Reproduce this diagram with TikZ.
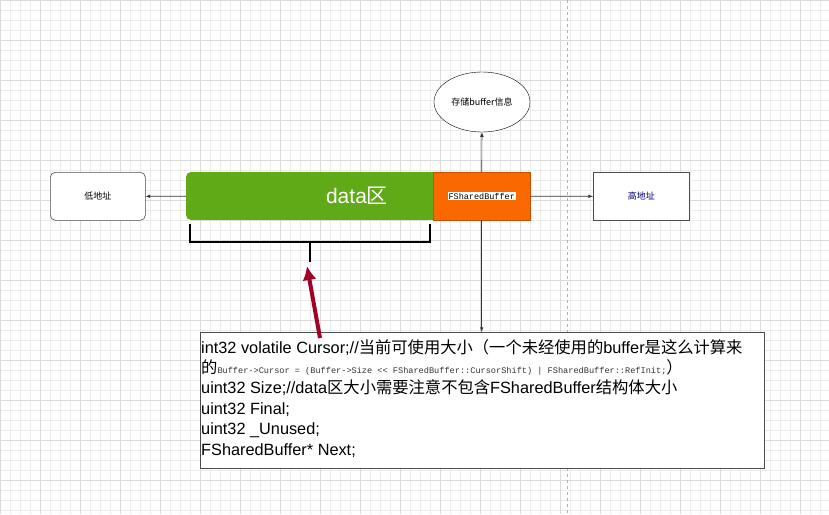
\documentclass[tikz,border=0pt]{standalone}
\usepackage{fontspec}
\usetikzlibrary{shapes.geometric,arrows.meta}
\setmainfont{Liberation Sans}
\setmonofont{Liberation Mono}
\newfontfamily\cjk{Noto Sans CJK SC}
\begin{document}
\begin{tikzpicture}[x=1pt,y=-1pt,
  lbl/.style={font=\cjk\fontsize{9}{10}\selectfont},
  arr/.style={->,>=latex,draw=black!80,line width=0.6pt},
  box/.style={draw=black!70,fill=white,line width=0.6pt,minimum width=95pt,minimum height=48pt,anchor=north west,inner sep=0pt}]
\useasboundingbox (0,0) rectangle (829,514);
\fill[white] (0,0) rectangle (829,514);
\foreach \i in {0,10,...,820} \draw[black!8,line width=0.4pt] (\i,0) -- (\i,514);
\foreach \i in {0,10,...,510} \draw[black!8,line width=0.4pt] (0,\i) -- (829,\i);
\foreach \i in {0,40,...,820} \draw[black!14,line width=0.5pt] (\i,0) -- (\i,514);
\foreach \i in {0,40,...,510} \draw[black!14,line width=0.5pt] (0,\i) -- (829,\i);
\draw[black!30,dashed,line width=0.5pt] (567,0) -- (567,514);
% boxes
\node[box,rounded corners=5pt,label={[lbl]center:低地址}] (low) at (50,172) {};
\node[box,minimum width=96pt,label={[lbl,text=blue!50!black]center:高地址}] (high) at (593,172) {};
\path[fill={rgb,255:red,96;green,169;blue,23},rounded corners=5pt] (186,172) -- (186,220) -- (433,220) -- (433,172) -- cycle;
\path[fill={rgb,255:red,96;green,169;blue,23}] (300,172) rectangle (433,220);
\node[inner sep=0pt,minimum width=247pt,minimum height=48pt,anchor=north west] (data) at (186,172) {};
\node[text=white,font=\fontsize{21}{22}\selectfont] (dl) at (357,196) {data{\cjk 区}};
\node[fill={rgb,255:red,250;green,104;blue,0},draw={rgb,255:red,200;green,80;blue,0},minimum width=97pt,minimum height=48pt,inner sep=0pt,anchor=north west] (fsb) at (433,172) {};
\node[fill=white,inner sep=1pt,font=\ttfamily\fontsize{8.5}{9}\selectfont] at (fsb.center) {FSharedBuffer};
\node[draw=black,fill=white,ellipse,minimum width=96pt,minimum height=60pt,inner sep=0pt,font=\cjk\fontsize{9}{10}\selectfont] (info) at (482,102) {存储buffer信息};
\draw[arr] (fsb.north) -- (info.south);
\draw[arr] (data.west) -- (low.east);
\draw[arr] (fsb.east) -- (high.west);
% text box
\node[draw=black!70,fill=white,anchor=north west,minimum width=564pt,minimum height=136pt,inner sep=0pt] (tb) at (200,332) {};
\draw[arr] (fsb.south) -- (tb.north -| fsb.south);
\node[anchor=north west,align=left,inner sep=0pt,font=\fontsize{16.3}{20.4}\selectfont] (txt) at (201,339) {%
int32 volatile Cursor;//{\cjk 当前可使用大小（一个未经使用的}buffer{\cjk 是这么计算来}\\
{\cjk 的}{\ttfamily\fontsize{8.6}{9}\selectfont\color{black!80}Buffer->Cursor = (Buffer->Size << FSharedBuffer::CursorShift) | FSharedBuffer::RefInit;}{\cjk ）}\\
uint32 Size;//data{\cjk 区大小需要注意不包含}FSharedBuffer{\cjk 结构体大小}\\
uint32 Final;\\
uint32 \_Unused;\\
FSharedBuffer* Next;};
% bracket
\coordinate (b1) at (190,224);
\coordinate (b2) at (430,224);
\coordinate (bs) at (310,242);
\coordinate (be) at (310,262);
\draw[line width=1.8pt] (b1) |- (bs) -| (b2);
\draw[line width=1.8pt] (bs) -- (be);
\coordinate (ps) at (320,338);
\coordinate (pe) at (307,266);
\draw[line width=4pt,draw={rgb,255:red,162;green,0;blue,37},-{Latex[length=14pt,width=14pt]}] (ps) -- (pe);
\end{tikzpicture}
\end{document}
